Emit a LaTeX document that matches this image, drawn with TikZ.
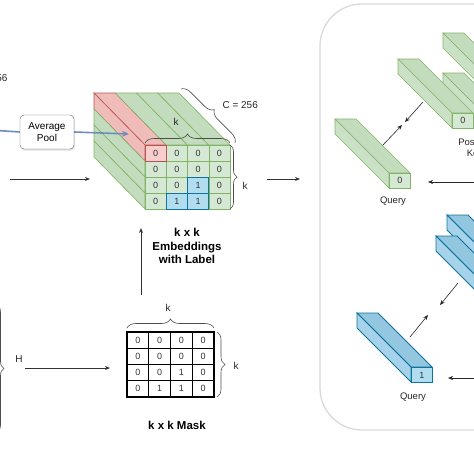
\documentclass[tikz,border=0pt]{standalone}
\usepackage{fontspec}
\setmainfont{Liberation Sans}
\usetikzlibrary{arrows.meta,decorations.pathreplacing,shadows}

\definecolor{grnfill}{HTML}{D5E8D4}
\definecolor{grntop}{HTML}{C4DCBE}
\definecolor{grnside}{HTML}{CBE1C6}
\definecolor{grnline}{HTML}{82B366}
\definecolor{redfill}{HTML}{F8CECC}
\definecolor{redtop}{HTML}{EFBCBA}
\definecolor{redline}{HTML}{B85450}
\definecolor{blufill}{HTML}{B1DDF0}
\definecolor{blutop}{HTML}{93C6DF}
\definecolor{bluside}{HTML}{A6D3EA}
\definecolor{bluline}{HTML}{10739E}
\definecolor{poolblue}{HTML}{6C8EBF}

\tikzset{
  cell/.style={minimum width=21.25pt, minimum height=16pt, inner sep=0pt, font=\fontsize{9}{9}\selectfont, text=black!80},
  gcell/.style={cell, draw=grnline, fill=grnfill},
  rcell/.style={cell, draw=redline, fill=redfill},
  bcell/.style={cell, draw=bluline, fill=blufill, line width=0.9pt},
  mcell/.style={cell, minimum width=21.75pt, minimum height=16.25pt, draw=black, line width=1.1pt},
  lbl/.style={font=\fontsize{10}{12}\selectfont, text=black!85},
  title/.style={font=\bfseries\fontsize{11.5}{13.5}\selectfont, align=center},
  brc/.style={decorate, decoration={brace, amplitude=#1}, draw=black!70, line width=0.6pt},
  brc/.default=8,
  arr/.style={->, draw=black!80, line width=0.9pt},
  parr/.style={->, draw=black!85, line width=0.6pt},
  poolbox/.style={draw=black!60, fill=white, rounded corners=4pt, minimum width=54pt, minimum height=34pt, align=center, font=\fontsize{10}{12}\selectfont, drop shadow={opacity=0.25, shadow xshift=1pt, shadow yshift=-1.5pt}},
  gline/.style={draw=grnline, line width=0.6pt},
  bline/.style={draw=bluline, line width=0.9pt},
}

% one bar seen from the front-left: back top-left corner, colour prefix, label, name
\newcommand{\prismbar}[5]{%
  \begin{scope}[shift={(#1,#2)}]
    \draw[#3line, fill=#3top] (0,0) -- (21,0) -- (75,54) -- (54,54) -- cycle;
    \draw[#3line, fill=#3side] (0,0) -- (54,54) -- (54,69) -- (0,15) -- cycle;
    \node[cell, #3line, fill=#3fill, minimum width=21pt, minimum height=15pt, anchor=north west] (#5) at (54,54) {#4};
  \end{scope}}
\colorlet{gtop}{grntop}\colorlet{gside}{grnside}\colorlet{gfill}{grnfill}
\colorlet{btop}{blutop}\colorlet{bside}{bluside}\colorlet{bfill}{blufill}

\begin{document}
\begin{tikzpicture}[x=1pt, y=-1pt, >={Stealth[length=5pt,width=4pt]}]
        \useasboundingbox (0,0) rectangle (474,474);

        % Cut-off text and brace on the left
        \node[lbl, anchor=east] (cleft) at (11,78) {C = 256};
        \draw[brc=7] (-3,305) -- (-3,432);
        \node[lbl] (hlbl) at (19,359) {H};

        % Average pooling
        \node[poolbox] (pool) at (47,132) {Average\\Pool};
        \coordinate (poolin) at (-10,130);
        \coordinate (redbar) at (129,134);

        % Embedding cube: top faces, left faces, front cells
        \foreach \i in {0,...,3} {
          \ifnum\i=0 \def\fc{redtop}\def\lc{redline}\else \def\fc{grntop}\def\lc{grnline}\fi
          \draw[draw=\lc, fill=\fc, line width=0.6pt] ({145+\i*21.25},145) -- ({145+(\i+1)*21.25},145)
            -- ++(-51,-52) -- ({94+\i*21.25},93) -- cycle;
          \draw[draw=\lc, fill=\fc, line width=0.6pt] (145,{145+\i*16}) -- (145,{161+\i*16})
            -- ++(-51,-52) -- (94,{93+\i*16}) -- cycle;
        }
        \foreach \r/\vals in {1/{0,0,0,0},2/{0,0,0,0},3/{0,0,1,0},4/{0,1,1,0}} {
          \foreach \v [count=\c] in \vals {
            \node[gcell] (e\r\c) at ({145+(\c-0.5)*21.25},{145+(\r-0.5)*16}) {\v};
          }
        }
        \node[rcell] (e11) at ({145+0.5*21.25},153) {0};
        \foreach \r/\c in {3/3,4/2,4/3} {
          \node[bcell] (e\r\c) at ({145+(\c-0.5)*21.25},{145+(\r-0.5)*16}) {1};
        }

        % Pool arrows
        \draw[poolblue, line width=1.6pt] (poolin) -- (pool.west);
        \draw[poolblue, line width=1.6pt, -{Stealth[length=7pt,width=6pt]}] (pool.east) -- (redbar);

        % Cube braces
        \draw[brc=9] (145,143) -- (230,143);
        \node[lbl] (kcubetop) at (176,122) {k};
        \draw[brc=7] (230,145) -- (230,209);
        \node[lbl] (kcuberight) at (245,186) {k};
        \draw[brc=9] (181,89) -- (235,143);
        \node[lbl, anchor=west] (clbl) at (219,105) {C = 256};

        \node[title] (embtxt) at (187,246) {k x k\\Embeddings\\with Label};

        % Mask
        \foreach \r/\vals in {1/{0,0,0,0},2/{0,0,0,0},3/{0,0,1,0},4/{0,1,1,0}} {
          \foreach \v [count=\c] in \vals {
            \node[mcell] (m\r\c) at ({127+(\c-0.5)*21.75},{332+(\r-0.5)*16.25}) {\v};
          }
        }
        \draw[brc=9] (127,328) -- (214,328);
        \node[lbl] (kmasktop) at (168,308) {k};
        \draw[brc=8] (217,332) -- (217,397);
        \node[lbl] (kmaskright) at (236,366) {k};
        \node[title] (masktxt) at (177,425) {k x k Mask};

        % Flow arrows
        \coordinate (inA) at (10,179);
        \coordinate (inB) at (90,179);
        \draw[arr] (inA) -- (inB);
        \coordinate (hA) at (25,368);
        \coordinate (hB) at (110,368);
        \draw[arr] (hA) -- (hB);
        \coordinate (maskup) at (141,295);
        \coordinate (embdown) at (141,228);
        \draw[arr] (maskup) -- (embdown);
        \coordinate (outA) at (267,179);
        \coordinate (outB) at (300,179);
        \draw[arr] (outA) -- (outB);

        % Contrastive panel
        \draw[draw=black!15, line width=1.3pt, rounded corners=42pt] (320,4) rectangle (560,430);

        % Green pair
        \prismbar{443}{33}{g}{}{gk3}
        \prismbar{443}{73}{g}{}{gk2}
        \prismbar{398}{59}{g}{0}{gk1}
        \prismbar{335}{119}{g}{0}{gq}
        \node[lbl, font=\fontsize{9.5}{11}\selectfont] (gqlbl) at (393,201) {Query};
        \node[lbl, font=\fontsize{9.5}{11}\selectfont, align=center] (gklbl) at (475,149) {Positive\\Key};
        \coordinate (gka) at (423,102);
        \coordinate (gkb) at (405,122);
        \coordinate (gqa) at (383,145);
        \coordinate (gqb) at (402,125);
        \coordinate (gina) at (490,182);
        \coordinate (ginb) at (428,182);
        \draw[parr] (gka) -- (gkb);
        \draw[parr] (gqa) -- (gqb);
        \draw[parr] (gina) -- (ginb);

        % Blue pair
        \prismbar{447}{215}{b}{}{bk2}
        \prismbar{436}{236}{b}{}{bk1}
        \prismbar{357}{313}{b}{1}{bq}
        \node[lbl, font=\fontsize{9.5}{11}\selectfont] (bqlbl) at (413,397) {Query};
        \coordinate (bka) at (458,283);
        \coordinate (bkb) at (440,305);
        \coordinate (bqa) at (410,337);
        \coordinate (bqb) at (428,315);
        \coordinate (bina) at (490,378);
        \coordinate (binb) at (448,378);
        \draw[parr] (bka) -- (bkb);
        \draw[parr] (bqa) -- (bqb);
        \draw[parr] (bina) -- (binb);
\end{tikzpicture}
\end{document}
